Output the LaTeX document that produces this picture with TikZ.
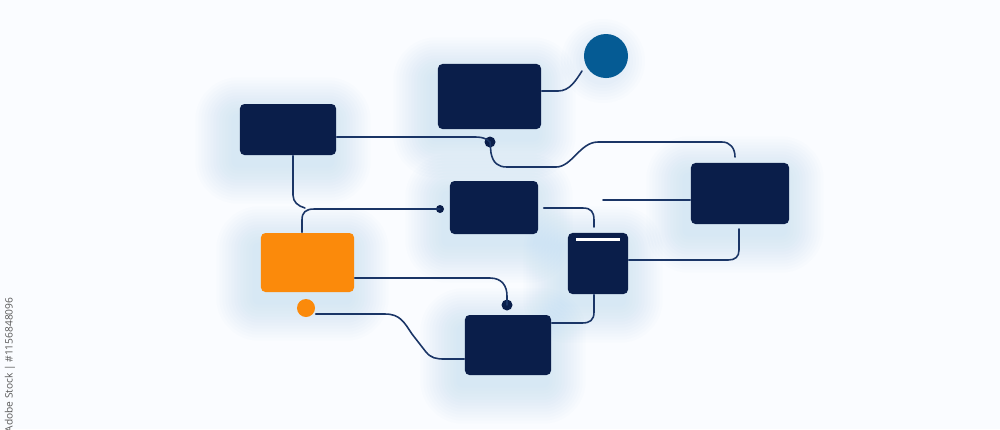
\documentclass[tikz,border=0pt]{standalone}
\usepackage{fontspec}
\setsansfont{Open Sans}
\usetikzlibrary{calc}
\definecolor{navy}{HTML}{0A1E4A}
\definecolor{wirec}{HTML}{1A3566}
\definecolor{orng}{HTML}{FB8A0B}
\definecolor{blu}{HTML}{055B94}
\definecolor{glowc}{HTML}{8CC4F4}
\definecolor{pagec}{HTML}{FAFCFF}
\pgfdeclarelayer{bg}
\pgfdeclarelayer{glowlayer}
\pgfsetlayers{bg,glowlayer,main}
\newcommand\myglow[1]{%
  \foreach \s in {2,5,...,38}{%
    \pgfmathsetmacro\rr{(\s+5)*0.01}%
    \fill[glowc, opacity=0.022, rounded corners=\rr cm]
      ($(#1.north west)+(-\s-6,-\s+12)$) rectangle ($(#1.south east)+(\s-4,\s+10)$);}}
\begin{document}
\begin{tikzpicture}[x=0.01cm,y=-0.01cm,
  box/.style={fill=navy, rounded corners=0.045cm, inner sep=0pt, draw=none},
  obox/.style={box, fill=orng},
  wire/.style={draw=wirec, line width=0.45pt, line cap=round},
  dot/.style={circle, fill=navy, inner sep=0pt},
]
\useasboundingbox (0,0) rectangle (1000,429);
\begin{pgfonlayer}{bg}
  \fill[pagec] (0,0) rectangle (1000,429);
\end{pgfonlayer}

% boxes
\node[box, minimum width=0.96cm, minimum height=0.51cm] (A) at (288,129.5) {};
\node[box, minimum width=1.03cm, minimum height=0.65cm] (B) at (489.5,96.5) {};
\node[box, minimum width=0.98cm, minimum height=0.61cm] (C) at (740,193.5) {};
\node[box, minimum width=0.60cm, minimum height=0.61cm] (D) at (598,263.5) {};
\node[box, minimum width=0.88cm, minimum height=0.53cm] (E) at (494,207.5) {};
\node[obox, minimum width=0.93cm, minimum height=0.59cm] (O) at (307.5,262.5) {};
\node[box, minimum width=0.86cm, minimum height=0.60cm] (F) at (508,345) {};

% white bar on D
\draw[white, line width=0.9pt] ($(D.north west)+(9,7)$) coordinate (bar1) -- ($(D.north east)+(-9,7)$) coordinate (bar2);

% circles and dots
\node[circle, fill=blu, minimum size=0.44cm, inner sep=0pt] (bc) at (606,56) {};
\node[circle, fill=orng, minimum size=0.18cm, inner sep=0pt] (oc) at (306,308) {};
\node[dot, minimum size=0.11cm] (d1) at (490,142) {};
\node[dot, minimum size=0.11cm] (d2) at (507,305) {};
\node[dot, minimum size=0.08cm] (d3) at (440,209) {};

% glows
\begin{pgfonlayer}{glowlayer}
  \myglow{A}\myglow{B}\myglow{C}\myglow{D}\myglow{E}\myglow{O}\myglow{F}
  \foreach \s in {2,5,...,20}{\fill[glowc, opacity=0.025] ($(bc)+(-3,5)$) circle (22+\s);}
\end{pgfonlayer}

% free ends
\coordinate (bcend) at (582,71);
\coordinate (ctop) at (735,157);
\coordinate (cin) at (603,200);
\coordinate (cbot) at (739,229);
\coordinate (dtop) at (594,227);
\coordinate (aend) at (305,208);

% connectors
\draw[wire] (B.east |- 0,91) -- (558,91) .. controls (570,91) and (576,80) .. (bcend);
\draw[wire] (A.east |- 0,137) -- (476,137) .. controls (483,137) and (487,139) .. (d1.center);
\draw[wire] (d1.center) -- (491,153) .. controls (493,163) and (498,167) .. (507,167)
  -- (556,167) .. controls (572,167) and (580,142) .. (598,142)
  -- (722,142) .. controls (730,142) and (735,148) .. (ctop);
\draw[wire] (cin) -- (C.west |- cin);
\draw[wire] (cbot) -- (739,250) .. controls (739,257) and (735,260) .. (728,260) -- (D.east |- 0,260);
\draw[wire] (E.east |- 0,208) ++(5,0) -- (583,208) .. controls (591,208) and (594,212) .. (594,220) -- (dtop);
\draw[wire] (D.south -| 594,0) -- (594,312) .. controls (594,320) and (590,323) .. (582,323) -- (F.east |- 0,323);
\draw[wire] (O.east |- 0,278) -- (490,278) .. controls (502,278) and (507,286) .. (507,296) -- (d2.center);
\draw[wire] (oc.east |- 0,314) -- (385,314) .. controls (400,314) and (404,322) .. (412,334)
  -- (426,352) .. controls (431,358) and (436,359) .. (445,359) -- (F.west |- 0,359);
\draw[wire] (A.south -| 293,0) -- (293,195) .. controls (293,202) and (298,206) .. (aend);
\draw[wire] (O.north -| 302,0) -- (302,220) .. controls (302,212) and (306,209) .. (314,209) -- (d3.center);

% side label
\node[rotate=90, text=black!65, inner sep=0pt] (wm) at (10,365)
  {\sffamily\fontsize{2.9}{3}\selectfont Adobe Stock | \#1156848096};
\end{tikzpicture}
\end{document}
